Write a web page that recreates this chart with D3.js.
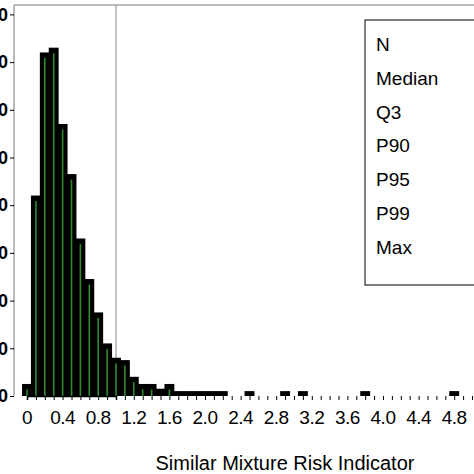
<!DOCTYPE html><html><head><meta charset="utf-8">
<script src="https://cdn.jsdelivr.net/npm/d3@7"></script>
<style>body{margin:0;background:#fff}svg{display:block;font-family:"Liberation Sans",Arial,sans-serif}</style>
</head><body><svg width="474" height="474"></svg><script>
const binMids=[0,0.1,0.2,0.3,0.4,0.5,0.6,0.7,0.8,0.9,1.0,1.1,1.2,1.3,1.4,1.5,1.6,1.7,1.8,1.9,2.0,2.1,2.2,2.5,2.9,3.1,3.8,4.8];
const counts=[4,83,143,145,113,92,65,48,34,21,15,14,7,4,4,2,4,1,1,1,1,1,1,1,1,1,1,1];
const xTickLabels=[0,0.4,0.8,1.2,1.6,2.0,2.4,2.8,3.2,3.6,4.0,4.4,4.8,5.2];
const yTicks=[0,20,40,60,80,100,120,140,160];
const legendLabels=["N","Median","Q3","P90","P95","P99","Max"];
const refLine=1.0;
const svg=d3.select("svg");
const x=d3.scaleLinear().domain([0,1]).range([27,116]);
const y=d3.scaleLinear().domain([0,20]).range([396,348.3]);
const bw=x(0.1)-x(0);
svg.append("line").attr("x1",14).attr("x2",474).attr("y1",5).attr("y2",5).attr("stroke","#777");
svg.append("line").attr("x1",14).attr("x2",14).attr("y1",5).attr("y2",396).attr("stroke","#777");
const yAx=svg.append("g").attr("transform","translate(14,0)").call(d3.axisLeft(y).tickValues(yTicks).tickSize(4).tickPadding(2));
yAx.select(".domain").remove();
yAx.selectAll("text").attr("font-size",18).attr("font-weight","bold");
svg.append("line").attr("x1",x(refLine)).attr("x2",x(refLine)).attr("y1",5).attr("y2",396).attr("stroke","#888").attr("stroke-width",1);
const g=svg.append("g");
binMids.forEach((m,i)=>{
 const top=y(counts[i]);
 g.append("rect").attr("x",x(m)-bw/2-0.5).attr("width",bw+1).attr("y",top-2.5).attr("height",396-top+2.5).attr("fill","#000");
 if(396-top>5) g.append("rect").attr("x",x(m)-0.8).attr("width",1.6).attr("y",top+3).attr("height",396-top-3).attr("fill","#2e8b2e");
});
const xAx=svg.append("g").attr("transform","translate(0,396)").call(d3.axisBottom(x).tickValues(d3.range(0,53).map(d=>d/10)).tickSize(4).tickFormat(""));
xAx.select(".domain").attr("stroke","#000").attr("stroke-width",1.5);
xTickLabels.forEach(v=>svg.append("text").attr("x",x(v)).attr("y",424).attr("text-anchor","middle").attr("font-size",19).attr("letter-spacing",-0.5).text(v===0?"0":v.toFixed(1)));
svg.append("text").attr("x",285).attr("y",470).attr("text-anchor","middle").attr("font-size",20).text("Similar Mixture Risk Indicator");
svg.append("rect").attr("x",365).attr("y",20).attr("width",120).attr("height",265).attr("fill","#fff").attr("stroke","#000").attr("stroke-width",1);
legendLabels.forEach((t,i)=>svg.append("text").attr("x",376).attr("y",51+i*33.8).attr("font-size",19).text(t));
</script></body></html>
